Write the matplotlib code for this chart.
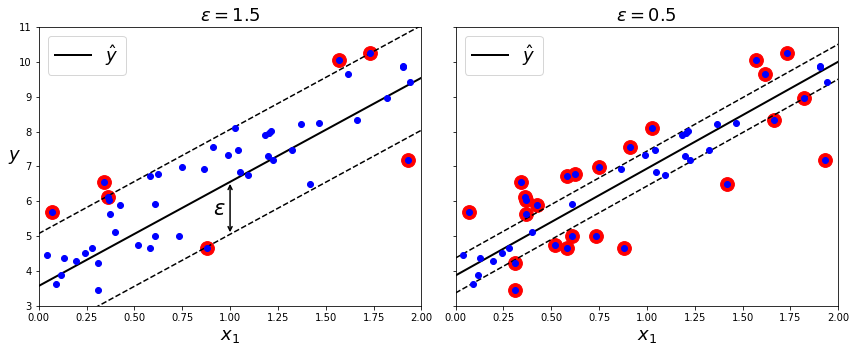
import numpy as np
import matplotlib
matplotlib.use("Agg")
import matplotlib.pyplot as plt

# data points
x_vals = [0.041, 0.069, 0.093, 0.116, 0.130, 0.195, 0.244, 0.279, 0.312, 0.312,
          0.341, 0.364, 0.367, 0.370, 0.399, 0.425, 0.518, 0.582, 0.584, 0.608,
          0.609, 0.623, 0.733, 0.749, 0.864, 0.880, 0.912, 0.990, 1.028, 1.040,
          1.050, 1.093, 1.185, 1.197, 1.202, 1.215, 1.224, 1.325, 1.368, 1.416,
          1.464, 1.570, 1.617, 1.665, 1.732, 1.819, 1.903, 1.906, 1.931, 1.940]
y_vals = [4.46, 5.69, 3.63, 3.90, 4.37, 4.29, 4.52, 4.66, 4.23, 3.46,
          6.57, 6.12, 6.04, 5.63, 5.12, 5.90, 4.74, 6.73, 4.66, 5.00,
          5.92, 6.78, 5.00, 6.98, 6.92, 4.66, 7.55, 7.32, 8.09, 7.46,
          6.83, 6.75, 7.91, 7.29, 7.96, 8.01, 7.20, 7.46, 8.21, 6.49,
          8.25, 10.06, 9.66, 8.32, 10.26, 8.95, 9.86, 9.87, 7.18, 9.43]

# support vectors (red circles) for each model
sv_left = [0, 1, 0, 0, 0, 0, 0, 0, 0, 0,
           1, 1, 0, 0, 0, 0, 0, 0, 0, 0,
           0, 0, 0, 0, 0, 1, 0, 0, 0, 0,
           0, 0, 0, 0, 0, 0, 0, 0, 0, 0,
           0, 1, 0, 0, 1, 0, 0, 0, 1, 0]
sv_right = [0, 1, 0, 0, 0, 0, 0, 0, 1, 1,
            1, 1, 1, 1, 0, 1, 1, 1, 1, 1,
            0, 1, 1, 1, 0, 1, 1, 0, 1, 0,
            0, 0, 0, 0, 0, 0, 0, 0, 0, 1,
            0, 1, 1, 1, 1, 1, 0, 0, 1, 0]

# fitted lines (intercept, slope) and epsilons
epsilons = [1.5, 0.5]
intercepts = [3.58, 3.88]
slopes = [2.98, 3.06]

X = np.array(x_vals)
y = np.array(y_vals)
svs = [np.array(sv_left, dtype=bool), np.array(sv_right, dtype=bool)]

fig, axes = plt.subplots(ncols=2, figsize=(856 / 72, 352 / 72), dpi=72, sharey=True)
plt.subplots_adjust(left=0.0452, right=0.9793, top=0.924, bottom=0.130, wspace=0.089)

x1s = np.linspace(0, 2, 100)
for ax, eps, b, w, sv in zip(axes, epsilons, intercepts, slopes, svs):
    y_pred = b + w * x1s
    ax.plot(x1s, y_pred, "k-", linewidth=2, label=r"$\hat{y}$")
    ax.plot(x1s, y_pred + eps, "k--")
    ax.plot(x1s, y_pred - eps, "k--")
    ax.scatter(X[sv], y[sv], s=190, facecolors="red", zorder=-1)
    ax.plot(X, y, "bo")
    ax.set_xlabel(r"$x_1$", fontsize=18)
    ax.legend(loc="upper left", fontsize=18)
    ax.axis([0, 2, 3, 11])
    ax.set_title(r"$\epsilon = {}$".format(eps), fontsize=18)

axes[0].set_ylabel(r"$y$", fontsize=18, rotation=0)
eps_x1 = 1
eps_y_pred = intercepts[0] + slopes[0] * eps_x1
axes[0].annotate("", xy=(eps_x1, eps_y_pred), xytext=(eps_x1, eps_y_pred - epsilons[0]),
                 arrowprops={"arrowstyle": "<->", "linewidth": 1.5})
axes[0].text(0.91, 5.6, r"$\epsilon$", fontsize=21)

plt.savefig("out.png", dpi=72)
